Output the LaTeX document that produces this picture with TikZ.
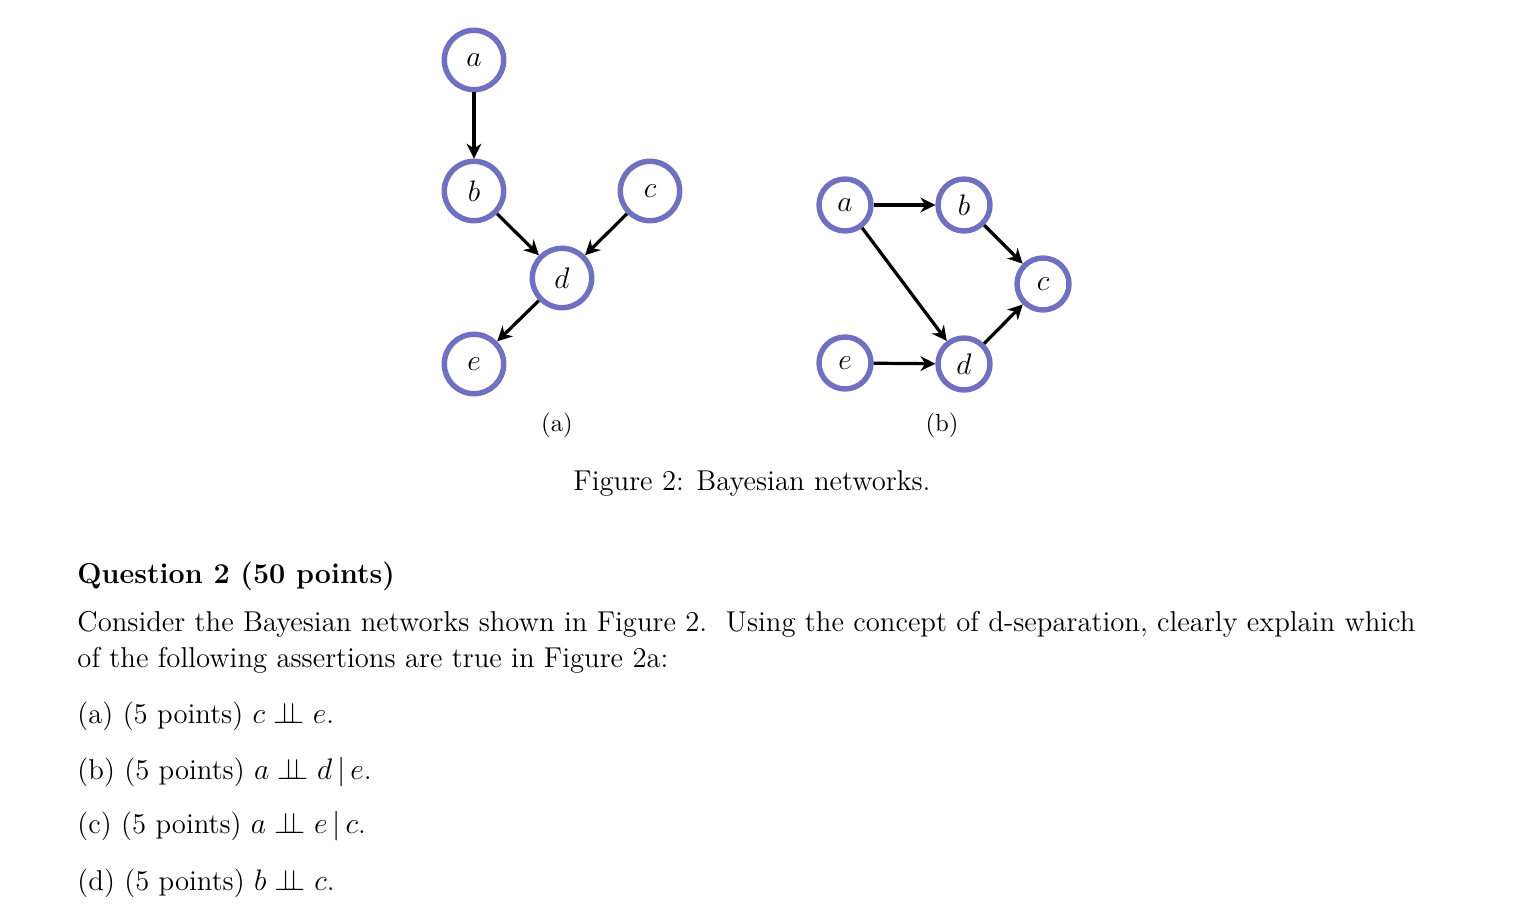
\documentclass[tikz,border=0pt]{standalone}
\usepackage{amsmath,amssymb}
\usetikzlibrary{arrows.meta}
\definecolor{netblue}{RGB}{112,112,192}
\newcommand{\indep}{\mathrel{\perp\!\!\!\perp}}
\newcommand{\bigtext}{\fontsize{11.6}{14}\selectfont}
\newcommand{\vartext}{\fontsize{12}{14}\selectfont}
\tikzset{
  var/.style={circle,draw=netblue,line width=2.2pt,fill=white,minimum size=24pt,inner sep=0pt,font=\vartext},
  smallvar/.style={var,minimum size=21pt},
  edge/.style={->,>={Stealth[length=6pt,width=6pt]},line width=1.3pt},
  line/.style={anchor=base west,inner sep=0pt,font=\bigtext}
}
\begin{document}
\begin{tikzpicture}[x=0.0142cm,y=-0.0142cm]
  \useasboundingbox (0,0) rectangle (1523,916);

  % network (a)
  \node [var] (a1) at (474,60) {$a$};
  \node [var] (b1) at (474,191) {$b$};
  \node [var] (c1) at (650,191) {$c$};
  \node [var] (d1) at (562,278) {$d$};
  \node [var] (e1) at (474,364) {$e$};
  \draw [edge] (a1) -- (b1);
  \draw [edge] (b1) -- (d1);
  \draw [edge] (c1) -- (d1);
  \draw [edge] (d1) -- (e1);
  \node (capa) at (557,425) {(a)};

  % network (b)
  \node [smallvar] (a2) at (845,205) {$a$};
  \node [smallvar] (b2) at (964,205) {$b$};
  \node [smallvar] (c2) at (1043,284) {$c$};
  \node [smallvar] (e2) at (845,363) {$e$};
  \node [smallvar] (d2) at (964,364) {$d$};
  \draw [edge] (a2) -- (b2);
  \draw [edge] (b2) -- (c2);
  \draw [edge] (a2) -- (d2);
  \draw [edge] (e2) -- (d2);
  \draw [edge] (d2) -- (c2);
  \node (capb) at (942,425) {(b)};

  \node [font=\bigtext] (fig) at (752,483) {Figure 2: Bayesian networks.};

  % question text
  \node [line] (q) at (77,584) {\textbf{Question 2 (50 points)}};
  \node [line] (l1) at (77,632) {Consider the Bayesian networks shown in Figure 2.\ \ Using the concept of d-separation, clearly explain which};
  \node [line] (l2) at (77,668) {of the following assertions are true in Figure 2a:};
  \node [line] (ia) at (77,724) {(a) (5 points) $c \indep e$.};
  \node [line] (ib) at (77,779) {(b) (5 points) $a \indep d \,|\, e$.};
  \node [line] (ic) at (77,834) {(c) (5 points) $a \indep e \,|\, c$.};
  \node [line] (id) at (77,890) {(d) (5 points) $b \indep c$.};
\end{tikzpicture}
\end{document}
